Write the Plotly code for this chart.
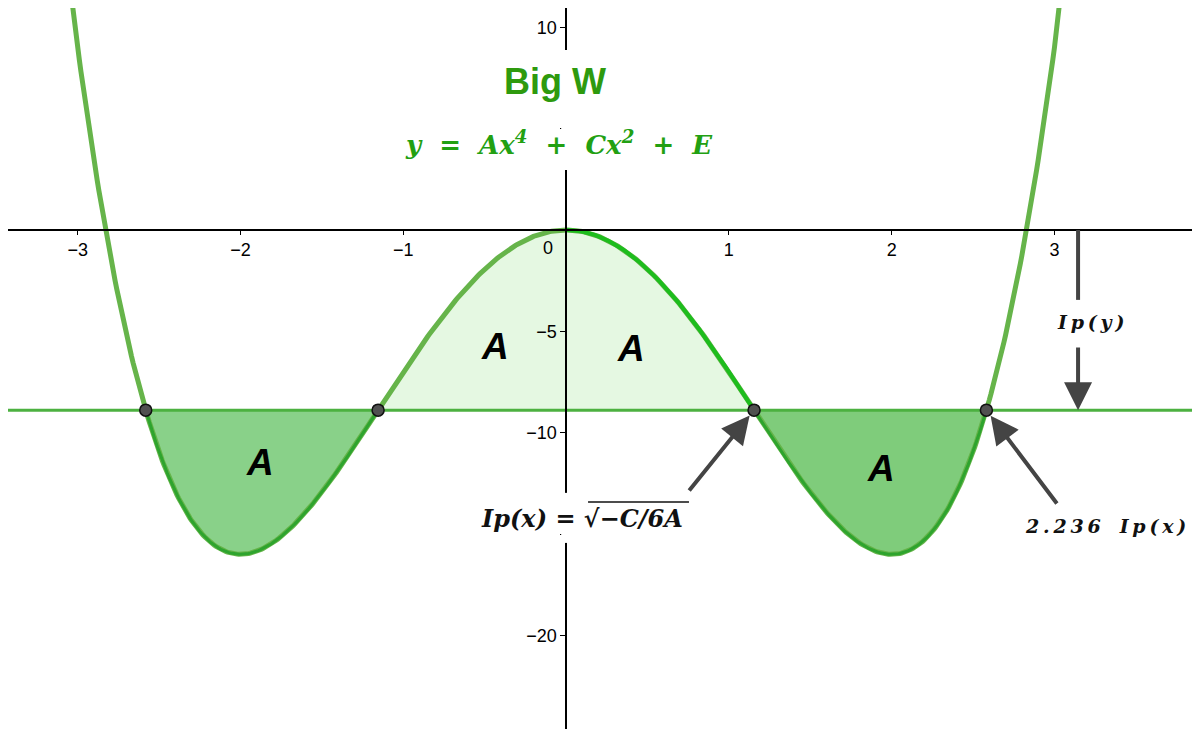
import numpy as np
import plotly.graph_objects as go

# the plotted function  y = A x^4 + C x^2 + E
A = 1.0
C = -8.0
E = 0.0

x_curve = np.linspace(-3.6, 4.0, 761)
y_curve = A * x_curve**4 + C * x_curve**2 + E

# inflection point and the second crossing of the inflection line
ip_x = np.sqrt(-C / (6 * A))
ratio = 2.236
ip_y = A * ip_x**4 + C * ip_x**2 + E
cross_x = [-ratio * ip_x, -ip_x, ip_x, ratio * ip_x]

# axis ticks
x_ticks = [-3, -2, -1, 1, 2, 3]
y_ticks = [10, 5, -5, -10, -15, -20]
y_tick_text = ['10', '', '\u22125', '\u221210', '', '\u221220']

# page body has an 8px margin, so the view starts 8px in
x_range = [-3.428, 3.894]
y_range = [-24.62, 10.95]

green = '#66b44a'
bright = '#1dbd1d'
dark = '#2ea42e'
grey = '#444444'


def f(x):
    return A * x**4 + C * x**2 + E


def region(x0, x1):
    xs = x_curve[(x_curve >= x0) & (x_curve <= x1)]
    xs = np.concatenate([[x0], xs, [x1]])
    return xs, f(xs)


fig = go.Figure()

# filled areas between curve and the inflection line
for (x0, x1), col in [((cross_x[1], cross_x[2]), '#e5f8e2'),
                      ((cross_x[0], cross_x[1]), '#89d189'),
                      ((cross_x[2], cross_x[3]), '#7fcc7b')]:
    xs, ys = region(x0, x1)
    fig.add_trace(go.Scatter(x=np.concatenate([xs, [x1, x0]]),
                             y=np.concatenate([ys, [ip_y, ip_y]]),
                             fill='toself', fillcolor=col, mode='none',
                             hoverinfo='skip', showlegend=False))

# horizontal line through the inflection points
fig.add_trace(go.Scatter(x=[x_range[0] - 1, x_range[1] + 1], y=[ip_y, ip_y], mode='lines',
                         line=dict(color='#4cb140', width=3), showlegend=False))

# main curve
fig.add_trace(go.Scatter(x=x_curve, y=y_curve, mode='lines',
                         line=dict(color=green, width=5), showlegend=False))

# highlighted pieces of the curve
for (x0, x1), col, w in [((0, cross_x[2]), bright, 4),
                         ((cross_x[0], cross_x[1]), dark, 3),
                         ((cross_x[2], cross_x[3]), dark, 3)]:
    xs, ys = region(x0, x1)
    fig.add_trace(go.Scatter(x=xs, y=ys, mode='lines',
                             line=dict(color=col, width=w), showlegend=False))

# crossing points
fig.add_trace(go.Scatter(x=cross_x, y=[ip_y] * 4, mode='markers',
                         marker=dict(size=12, color='#505050', line=dict(color='#111111', width=1.5)),
                         showlegend=False))

math_font = dict(family='DejaVu Serif', color='#111111')

shapes = [
    # gaps in the y axis behind the labels
    dict(type='rect', x0=-0.03, x1=0.03, y0=2.96, y1=8.88, fillcolor='white', line_width=0, layer='above'),
    dict(type='rect', x0=-0.03, x1=0.03, y0=-15.44, y1=-12.97, fillcolor='white', line_width=0, layer='above'),
    # upper part of the Ip(y) arrow
    dict(type='line', x0=3.145, x1=3.145, y0=0, y1=-3.45, line=dict(color=grey, width=4), layer='above'),
    # bar of the square root
    dict(type='line', x0=0.135, x1=0.755, y0=-13.42, y1=-13.42, line=dict(color='#111111', width=1.5), layer='above'),
]

annotations = [
    dict(x=-0.068, y=7.30, text='<b>Big W</b>', showarrow=False,
         font=dict(family='Liberation Sans', size=36, color='#2e9a0e')),
    dict(x=-0.043, y=4.29, text='<b><i>y  =  Ax<sup>4</sup>  +  Cx<sup>2</sup>  +  E</i></b>', showarrow=False,
         font=dict(family='DejaVu Serif', size=26, color='#22a012')),
    dict(x=-0.111, y=-0.89, text='0', showarrow=False,
         font=dict(family='Liberation Sans', size=18, color='#000000')),
    dict(x=3.219, y=-4.54, text='<b><i>I\u2009p\u2009(\u2009y\u2009)</i></b>', showarrow=False,
         font=dict(size=19, **math_font)),
    dict(x=0.095, y=-14.25, text='<b><i>Ip(x) = \u221a\u2212C/6A</i></b>', showarrow=False,
         font=dict(size=24, **math_font)),
    dict(x=3.311, y=-14.60, text='<b><i>2\u2009.\u20092\u20093\u20096\u2003I\u2009p\u2009(\u2009x\u2009)</i></b>',
         showarrow=False, font=dict(size=19, **math_font)),
    # arrows
    dict(x=3.145, y=ip_y, ax=3.145, ay=-5.72, axref='x', ayref='y', xref='x', yref='y', text='',
         showarrow=True, arrowhead=2, arrowsize=1.4, arrowwidth=4, arrowcolor=grey),
    dict(x=ip_x, y=ip_y, ax=0.749, ay=-12.93, axref='x', ayref='y', text='',
         showarrow=True, arrowhead=2, arrowsize=1.4, arrowwidth=4, arrowcolor=grey, standoff=7),
    dict(x=cross_x[3], y=ip_y, ax=3.022, ay=-13.57, axref='x', ayref='y', text='',
         showarrow=True, arrowhead=2, arrowsize=1.4, arrowwidth=4, arrowcolor=grey, standoff=7),
]

for (ax_x, ax_y) in [(-0.436, -5.77), (0.399, -5.87), (-1.880, -11.49), (1.935, -11.79)]:
    annotations.append(dict(x=ax_x, y=ax_y, text='<b><i>A</i></b>', showarrow=False,
                            font=dict(family='Liberation Sans', size=37, color='#000000')))

x_pos = -y_range[0] / (y_range[1] - y_range[0])
y_pos = -x_range[0] / (x_range[1] - x_range[0])

fig.update_layout(
    width=1192, height=721,
    margin=dict(l=0, r=0, t=0, b=0),
    plot_bgcolor='white', paper_bgcolor='white',
    showlegend=False,
    xaxis=dict(range=x_range, showgrid=False, zeroline=False, anchor='free', position=x_pos,
               showline=True, linecolor='#000000', linewidth=1.5,
               ticks='outside', ticklen=4, tickcolor='#000000', tickvals=x_ticks,
               tickfont=dict(family='Liberation Sans', size=18, color='#000000')),
    yaxis=dict(range=y_range, showgrid=False, zeroline=False, anchor='free', position=y_pos,
               showline=True, linecolor='#000000', linewidth=1.5,
               ticks='outside', ticklen=5, tickcolor='#000000',
               tickvals=y_ticks, ticktext=y_tick_text,
               tickfont=dict(family='Liberation Sans', size=18, color='#000000')),
    shapes=shapes,
    annotations=annotations,
)

fig.write_html("out.html")
